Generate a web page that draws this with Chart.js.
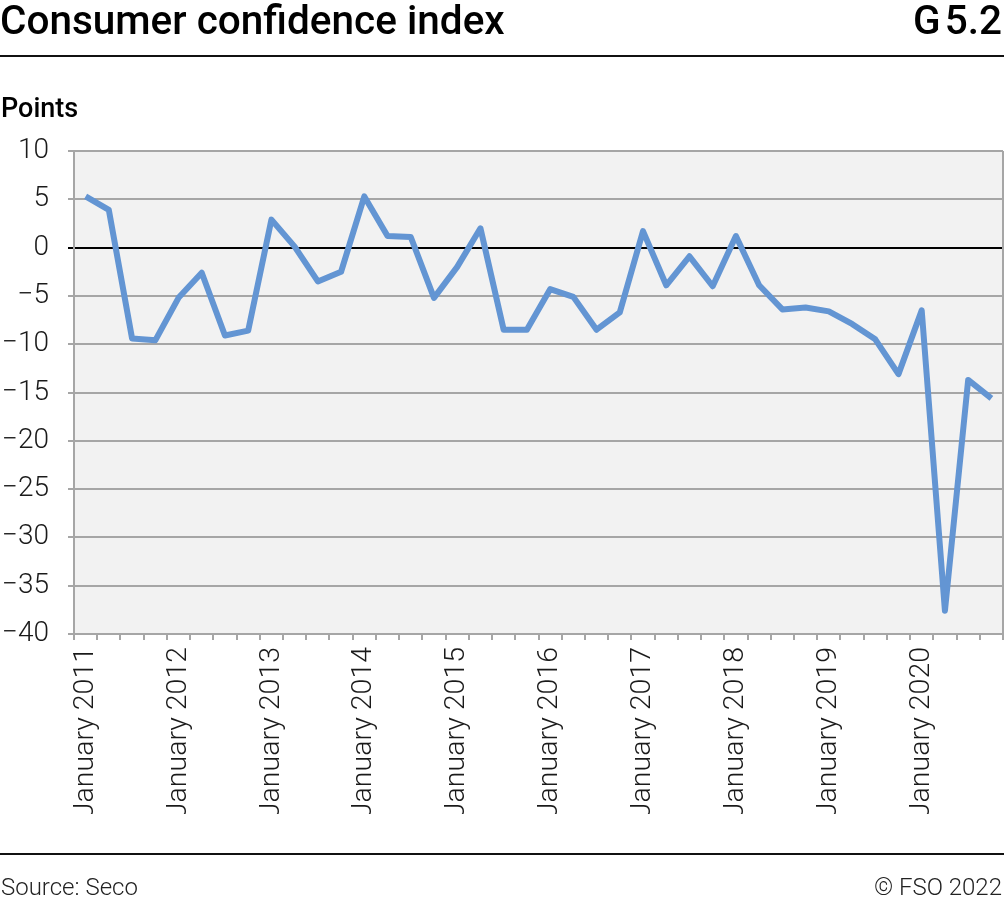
<!DOCTYPE html>
<html>
<head>
<meta charset="utf-8">
<script src="https://cdn.jsdelivr.net/npm/chart.js@4.4.1/dist/chart.umd.min.js"></script>
<style>
  html, body { margin: 0; padding: 0; background: #fff; }
  body { width: 1004px; height: 902px; position: relative; overflow: hidden; font-family: Roboto, "Noto Sans", sans-serif; color: #000; }
  .title { position: absolute; top: 0; left: 0; font-size: 40.5px; line-height: 40px; font-weight: 500; }
  .code { position: absolute; top: 0; right: 2px; font-size: 40.5px; line-height: 40px; font-weight: 500; }
  .rule { position: absolute; left: 0; width: 1004px; height: 2px; background: #111; }
  .unit { position: absolute; top: 95px; left: 1px; font-size: 27px; line-height: 27px; font-weight: 500; }
  .foot { position: absolute; top: 875px; font-size: 24px; line-height: 24px; font-weight: 300; color: #222; }
  #wrap { position: absolute; top: 0; left: 0; width: 1004px; height: 902px; }
</style>
</head>
<body>
<div id="wrap"><canvas id="chartCanvas"></canvas></div>
<div class="title">Consumer confidence index</div>
<div class="code">G&#8202;5.2</div>
<div class="rule" style="top:55px"></div>
<div class="unit">Points</div>
<div class="rule" style="top:853px"></div>
<div class="foot" style="left:1px">Source: Seco</div>
<div class="foot" style="right:2px">© FSO 2022</div>
<script>
  const years = [2011, 2012, 2013, 2014, 2015, 2016, 2017, 2018, 2019, 2020];
  const months = ['January', 'April', 'July', 'October'];
  const categories = [];
  years.forEach(y => months.forEach(m => categories.push(m + ' ' + y)));

  const confidence = [
    5.3, 3.9, -9.4, -9.6,
    -5.2, -2.6, -9.1, -8.6,
    2.9, 0.1, -3.5, -2.5,
    5.3, 1.2, 1.1, -5.2,
    -2.0, 2.0, -8.5, -8.5,
    -4.3, -5.1, -8.5, -6.7,
    1.7, -3.9, -0.9, -4.0,
    1.2, -3.9, -6.4, -6.2,
    -6.6, -7.9, -9.5, -13.1,
    -6.5, -37.6, -13.7, -15.6
  ];

  const yTicks = [10, 5, 0, -5, -10, -15, -20, -25, -30, -35, -40];

  const plotFrame = {
    id: 'plotFrame',
    beforeDraw(chart) {
      const a = chart.chartArea, c = chart.ctx;
      c.save();
      c.fillStyle = '#f2f2f2';
      c.fillRect(a.left, a.top, a.right - a.left, a.bottom - a.top);
      c.restore();
    },
    beforeDatasetsDraw(chart) {
      const a = chart.chartArea, c = chart.ctx;
      c.save();
      c.strokeStyle = '#a6a6a6';
      c.lineWidth = 2;
      c.beginPath();
      c.moveTo(a.right, a.top);
      c.lineTo(a.right, a.bottom);
      c.stroke();
      c.restore();
    }
  };

  const ctx = document.getElementById('chartCanvas').getContext('2d');
  const chart = new Chart(ctx, {
    type: 'line',
    data: {
      labels: categories,
      datasets: [{
        label: 'Consumer confidence index',
        data: confidence,
        borderColor: '#6395d3',
        borderWidth: 6,
        borderJoinStyle: 'round',
        pointRadius: 0,
        tension: 0,
        fill: false
      }]
    },
    options: {
      responsive: true,
      maintainAspectRatio: false,
      animation: false,
      layout: { padding: { top: 151, right: 1, bottom: 88, left: 0 } },
      plugins: {
        legend: { display: false },
        tooltip: { enabled: false }
      },
      scales: {
        x: {
          offset: true,
          afterFit: s => { s.height = 180; s.paddingLeft = 0; s.paddingRight = 0; },
          grid: {
            offset: true,
            drawOnChartArea: false,
            drawTicks: true,
            tickLength: 6,
            color: '#a6a6a6',
            lineWidth: 2
          },
          border: { color: '#a6a6a6', width: 2 },
          ticks: {
            autoSkip: false,
            minRotation: 90,
            maxRotation: 90,
            padding: 7,
            color: '#1a1a1a',
            font: { family: 'Roboto', size: 28.5, weight: 300 },
            callback: function(v, i) {
              const lab = categories[i];
              return lab.startsWith('January') ? lab : '';
            }
          }
        },
        y: {
          min: -40,
          max: 10,
          afterFit: s => { s.width = 74; s.paddingTop = 0; s.paddingBottom = 0; },
          afterBuildTicks: s => { s.ticks = yTicks.map(v => ({ value: v })); },
          grid: {
            color: c => c.tick && c.tick.value === 0 ? '#000000' : '#a6a6a6',
            lineWidth: 2,
            tickLength: 6
          },
          border: { color: '#a6a6a6', width: 2 },
          ticks: {
            padding: 19,
            color: '#1a1a1a',
            font: { family: 'Roboto', size: 28, weight: 300 },
            callback: v => v < 0 ? '\u2212' + Math.abs(v) : String(v)
          }
        }
      }
    },
    plugins: [plotFrame]
  });
</script>
</body>
</html>
